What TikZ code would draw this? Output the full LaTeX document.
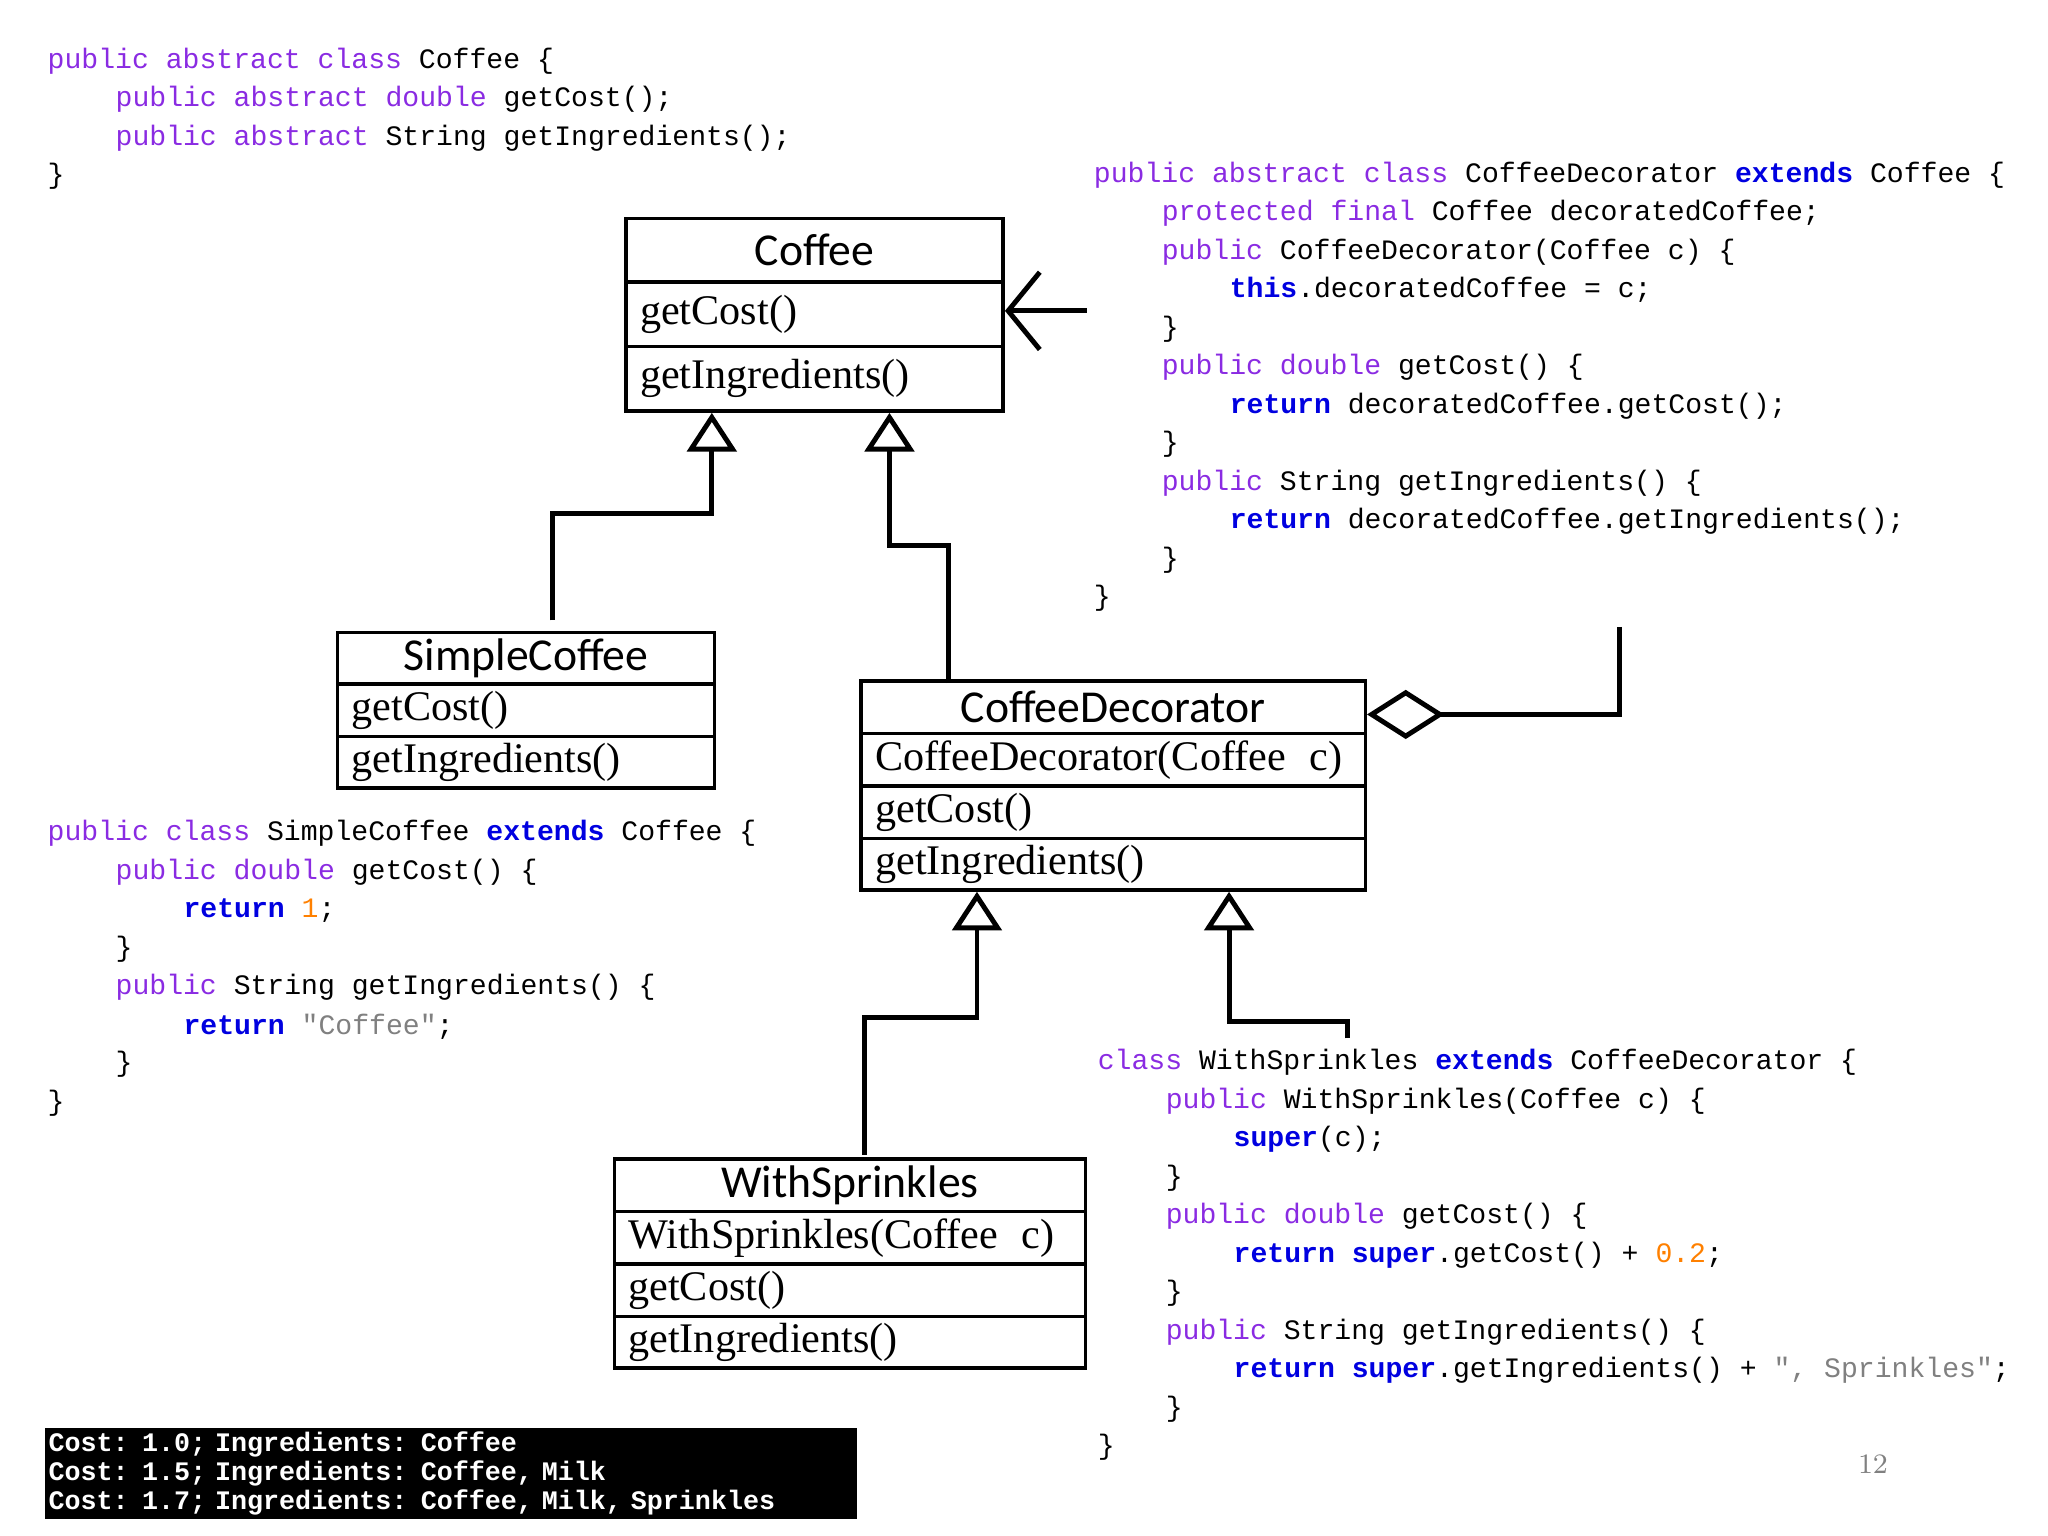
\documentclass[tikz,border=0pt]{standalone}
\usepackage{fontspec}
\usetikzlibrary{shapes.multipart,arrows.meta}
\newfontfamily\codefont{Liberation Mono}
\newfontfamily\umltitle{Carlito}
\newfontfamily\umlrow{Liberation Serif}
\definecolor{kwpurple}{HTML}{8A2BE2}
\definecolor{kwblue}{HTML}{0000E0}
\definecolor{numorange}{HTML}{FF8000}
\definecolor{strgrey}{HTML}{808080}
\newcommand{\kw}[1]{\textcolor{kwpurple}{#1}}
\newcommand{\kb}[1]{\textcolor{kwblue}{\bfseries #1}}
\newcommand{\rowbox}[2]{\vbox to #1{\vfil\hbox{#2}\vfil}}
\newcommand{\ttl}[2]{\makebox[#1]{\umltitle\fontsize{13}{14}\selectfont #2}}
\newcommand{\mth}{\umlrow\fontsize{12}{14}\selectfont}
\tikzset{
  code/.style={anchor=west,inner sep=0pt,font=\codefont\fontsize{8}{9}\selectfont},
  uml/.style={rectangle split,draw,line width=1pt,inner sep=0pt,inner xsep=4pt,
    rectangle split part align={left},align=left},
  inherit/.style={line width=1.4pt,-{Triangle[open,length=11pt,width=14pt,line width=1.4pt]}},
}
\begin{document}
\begin{tikzpicture}[x=0.01306cm,y=-0.01306cm]
  \useasboundingbox (0,0) rectangle (1568,1176);

  % Coffee
  \node[code] (a1) at (36,47) {\kw{public abstract class} Coffee \{};
  \node[code] (a2) at (88,76) {\kw{public abstract double} getCost();};
  \node[code] (a3) at (88,106) {\kw{public abstract} String getIngredients();};
  \node[code] (a4) at (36,135) {\}};

  % CoffeeDecorator
  \node[code] (b1) at (837,134) {\kw{public abstract class} CoffeeDecorator \kb{extends} Coffee \{};
  \node[code] (b2) at (889,163) {\kw{protected final} Coffee decoratedCoffee;};
  \node[code] (b3) at (889,193) {\kw{public} CoffeeDecorator(Coffee c) \{};
  \node[code] (b4) at (941,222) {\kb{this}.decoratedCoffee = c;};
  \node[code] (b5) at (889,252) {\}};
  \node[code] (b6) at (889,281) {\kw{public double} getCost() \{};
  \node[code] (b7) at (941,311) {\kb{return} decoratedCoffee.getCost();};
  \node[code] (b8) at (889,340) {\}};
  \node[code] (b9) at (889,370) {\kw{public} String getIngredients() \{};
  \node[code] (b10) at (941,399) {\kb{return} decoratedCoffee.getIngredients();};
  \node[code] (b11) at (889,429) {\}};
  \node[code] (b12) at (837,458) {\}};

  % SimpleCoffee
  \node[code] (s1) at (36,638) {\kw{public class} SimpleCoffee \kb{extends} Coffee \{};
  \node[code] (s2) at (88,668) {\kw{public double} getCost() \{};
  \node[code] (s3) at (140,697) {\kb{return} \textcolor{numorange}{1};};
  \node[code] (s4) at (88,727) {\}};
  \node[code] (s5) at (88,756) {\kw{public} String getIngredients() \{};
  \node[code] (s6) at (140,786) {\kb{return} \textcolor{strgrey}{"Coffee"};};
  \node[code] (s7) at (88,815) {\}};
  \node[code] (s8) at (36,845) {\}};

  % WithSprinkles
  \node[code] (w1) at (840,813) {\kw{class} WithSprinkles \kb{extends} CoffeeDecorator \{};
  \node[code] (w2) at (892,843) {\kw{public} WithSprinkles(Coffee c) \{};
  \node[code] (w3) at (944,872) {\kb{super}(c);};
  \node[code] (w4) at (892,902) {\}};
  \node[code] (w5) at (892,931) {\kw{public double} getCost() \{};
  \node[code] (w6) at (944,961) {\kb{return super}.getCost() + \textcolor{numorange}{0.2};};
  \node[code] (w7) at (892,990) {\}};
  \node[code] (w8) at (892,1020) {\kw{public} String getIngredients() \{};
  \node[code] (w9) at (944,1049) {\kb{return super}.getIngredients() + \textcolor{strgrey}{", Sprinkles"};};
  \node[code] (w10) at (892,1079) {\}};
  \node[code] (w11) at (840,1108) {\}};

  % UML-Klassen
  \node[uml,rectangle split parts=3,text width=3.49cm,anchor=north west] (coffee) at (478,166)
    {\rowbox{0.6cm}{\ttl{3.49cm}{Coffee}}
     \nodepart{two}\rowbox{0.61cm}{\mth getCost()}
     \nodepart{three}\rowbox{0.61cm}{\mth getIngredients()}};
  \node[uml,rectangle split parts=3,text width=3.49cm,anchor=north west] (simple) at (257,483)
    {\rowbox{0.48cm}{\ttl{3.49cm}{SimpleCoffee}}
     \nodepart{two}\rowbox{0.49cm}{\mth getCost()}
     \nodepart{three}\rowbox{0.48cm}{\mth getIngredients()}};
  \node[uml,rectangle split parts=4,text width=4.76cm,anchor=north west] (decorator) at (658,520)
    {\rowbox{0.49cm}{\ttl{4.76cm}{CoffeeDecorator}}
     \nodepart{two}\rowbox{0.49cm}{\mth CoffeeDecorator(Coffee\ \ c)}
     \nodepart{three}\rowbox{0.49cm}{\mth getCost()}
     \nodepart{four}\rowbox{0.48cm}{\mth getIngredients()}};
  \node[uml,rectangle split parts=4,text width=4.43cm,anchor=north west] (sprinkles) at (469,886)
    {\rowbox{0.49cm}{\ttl{4.43cm}{WithSprinkles}}
     \nodepart{two}\rowbox{0.49cm}{\mth WithSprinkles(Coffee\ \ c)}
     \nodepart{three}\rowbox{0.49cm}{\mth getCost()}
     \nodepart{four}\rowbox{0.48cm}{\mth getIngredients()}};

  % Verbindungen
  \coordinate (sc) at (423,475);
  \coordinate (dc) at (726,523);
  \coordinate (wc) at (662,884);
  \coordinate (wd) at (1032,795);
  \coordinate (ag) at (1240,480);
  \coordinate (cd) at (832,238);
  \draw[inherit] (sc) |- (545,393) -- (coffee.south west -| 545,0);
  \draw[inherit] (dc) |- (681,418) -- (coffee.south west -| 681,0);
  \draw[inherit] (wc) |- (748,779) -- (decorator.south west -| 748,0);
  \draw[inherit] (wd) |- (941,782) -- (decorator.south west -| 941,0);
  \draw[line width=1.4pt,-{Diamond[open,length=22pt,width=14pt,line width=1.4pt]}]
    (ag) |- (decorator.east |- 0,547);
  \draw[line width=1.4pt,-{Straight Barb[length=9pt,width=22pt,line width=1.4pt]}]
    (cd) -- (coffee.east |- cd);

  % Konsole
  \node[fill=black,text=white,anchor=north west,inner xsep=1pt,inner ysep=1pt,text width=8.05cm,
    minimum height=0.76cm,align=left,font=\codefont\bfseries\fontsize{7.6}{6.1}\selectfont] (console) at (34,1093)
    {Cost: 1.0; Ingredients: Coffee\\Cost: 1.5; Ingredients: Coffee, Milk\\Cost: 1.7; Ingredients: Coffee, Milk, Sprinkles};
  \node[text=strgrey,font=\fontsize{8}{9}\selectfont] (page) at (1434,1121) {12};
\end{tikzpicture}
\end{document}
